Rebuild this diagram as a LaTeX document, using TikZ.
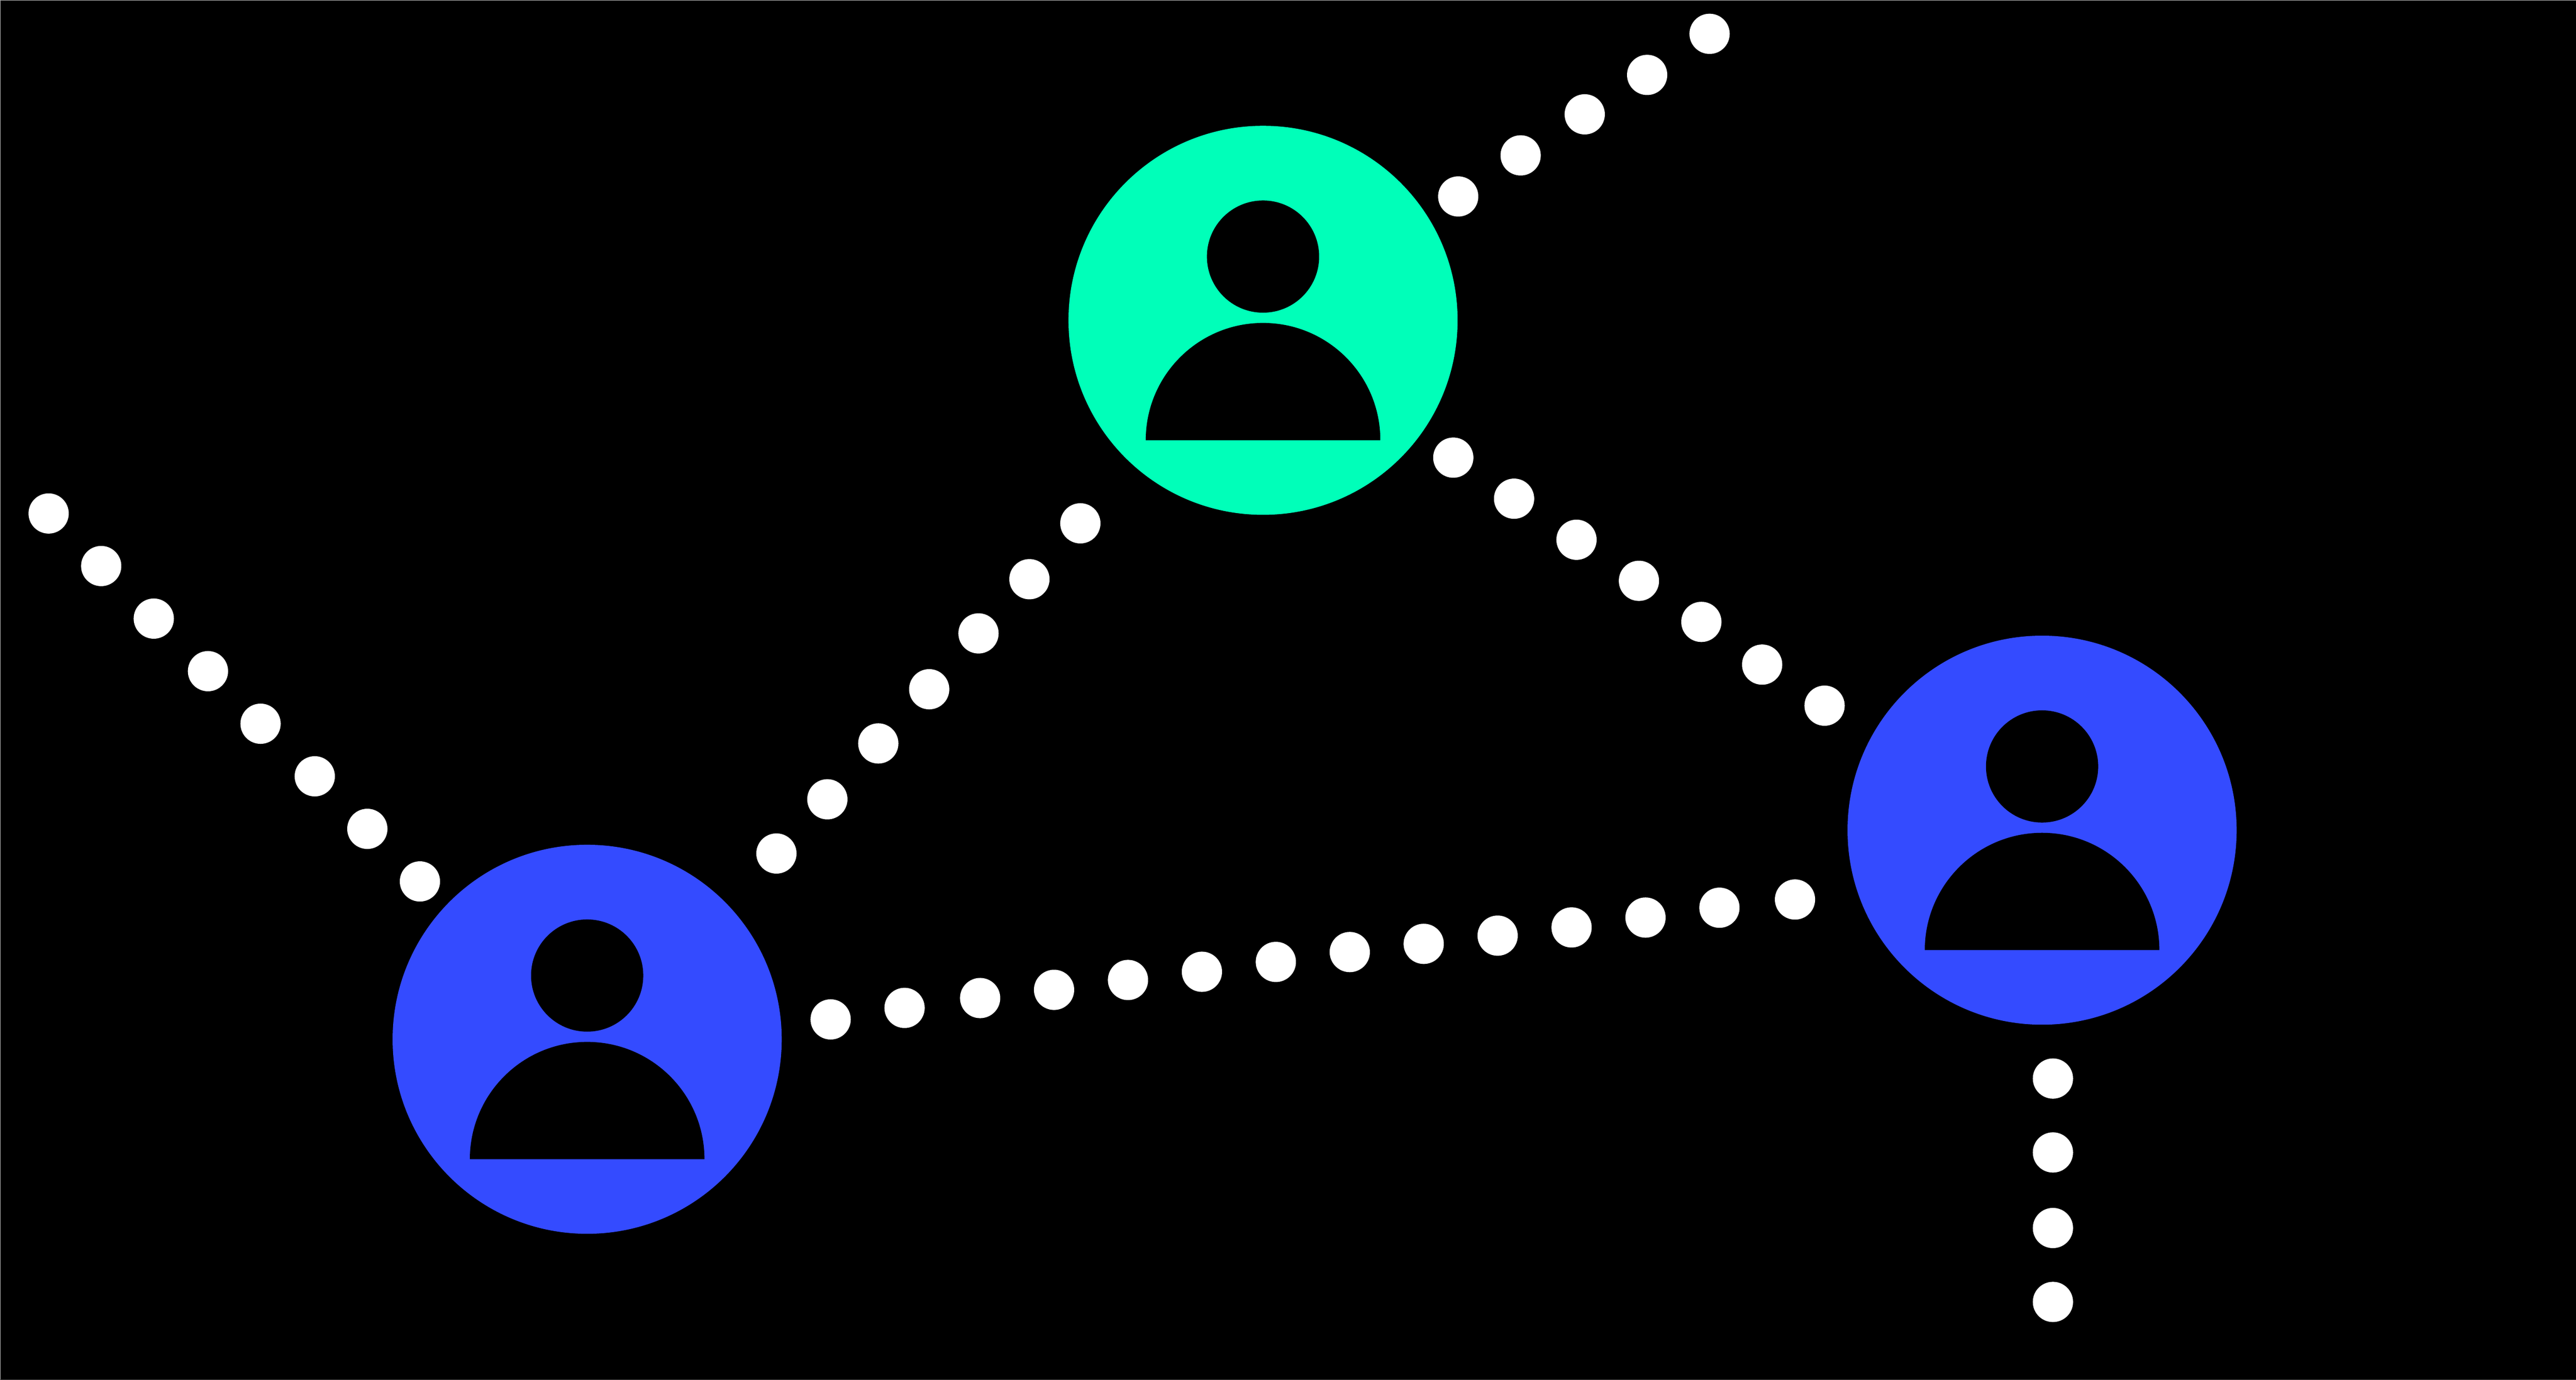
\documentclass[tikz,border=0pt]{standalone}
\definecolor{edgetop}{HTML}{B4B4B4}
\definecolor{edgelow}{HTML}{444444}
\definecolor{mint}{HTML}{00FFB9}
\definecolor{royal}{HTML}{344BFF}
\tikzset{
  disc/.style={circle,draw=none,inner sep=0pt,minimum size=8.46cm},
  head/.style={circle,draw=none,fill=black,inner sep=0pt,minimum size=2.44cm},
  body/.style={fill=black,draw=none},
  pearl/.style={circle,draw=none,fill=white,inner sep=0pt,minimum size=0.875cm},
  pics/person/.style n args={1}{code={
    \node[disc,fill=#1] (-disc) at (0,0) {};
    \node[head] (-head) at (0,-38.8) {};
    \fill[body] (-71.4,73) arc[start angle=180,end angle=360,radius=71.4] -- cycle;
  }}
}
\begin{document}
\begin{tikzpicture}[x=0.0357207cm,y=-0.0357207cm]
\useasboundingbox (0,0) rectangle (1568,840.13);
\fill[black] (0,0) rectangle (1568,840.13);
\fill[edgetop] (0,0) rectangle (1568,0.28);
\fill[edgetop] (0,0) rectangle (0.28,840.13);
\fill[edgelow] (0,839.85) rectangle (1568,840.13);
\pic (g) at (768.8,195) {person={mint}};
\pic (l) at (357.4,632.7) {person={royal}};
\pic (r) at (1243,505.4) {person={royal}};
\begin{scope}[shift={(0.6,0.6)}]
\foreach \x/\y [count=\i] in {29/312,61/344,93/376,126/408,158/440,191/472,223/504,255/536}
  \node[pearl] (a\i) at (\x,\y) {};
\foreach \x/\y [count=\i] in {472/519,503/486,534/452,565/419,595/385,626/352,657/318}
  \node[pearl] (b\i) at (\x,\y) {};
\foreach \x/\y [count=\i] in {887/119,925/94,964/69,1002/45,1040/20}
  \node[pearl] (c\i) at (\x,\y) {};
\foreach \x/\y [count=\i] in {884/278,921/303,959/328,997/353,1035/378,1072/404,1110/429}
  \node[pearl] (d\i) at (\x,\y) {};
\foreach \x/\y [count=\i] in {505/620,550/613,596/607,641/602,686/596,731/591,776/585,821/579,866/574,911/569,956/564,1001/558,1046/552,1092/547}
  \node[pearl] (e\i) at (\x,\y) {};
\foreach \x/\y [count=\i] in {1249/656,1249/701,1249/747,1249/792}
  \node[pearl] (f\i) at (\x,\y) {};
\end{scope}
\end{tikzpicture}
\end{document}
